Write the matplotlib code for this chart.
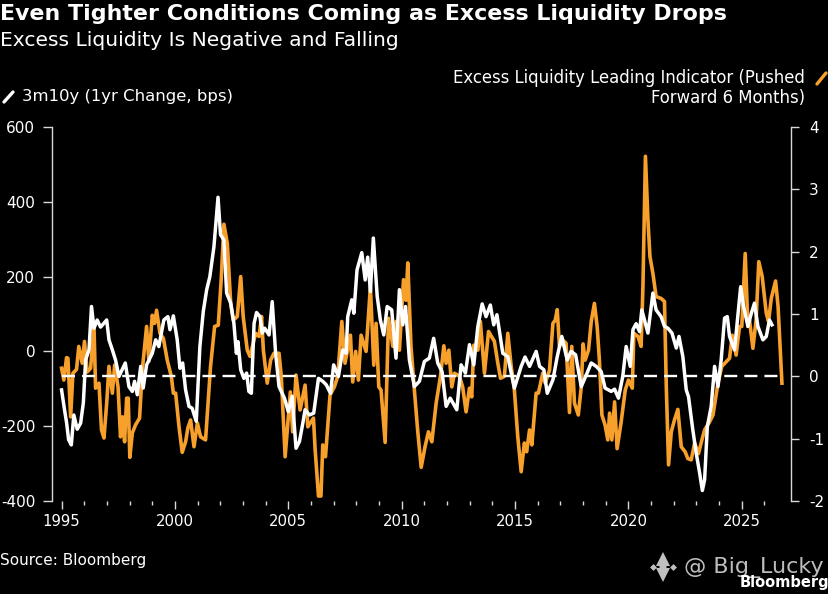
import matplotlib
matplotlib.use('Agg')
import matplotlib.pyplot as plt
from matplotlib.lines import Line2D

W, H = 829, 594
ORANGE = '#F7A02C'
GREY = '#d9d9d9'

curve_years = [1995.0, 1995.13, 1995.22, 1995.31, 1995.43, 1995.54, 1995.69, 1995.84, 1995.96, 1996.06, 1996.21, 1996.32,
               1996.43, 1996.57, 1996.72, 1996.99, 1997.09, 1997.24, 1997.38, 1997.53, 1997.81, 1997.97, 1998.12, 1998.22,
               1998.34, 1998.49, 1998.6, 1998.75, 1999.0, 1999.15, 1999.29, 1999.51, 1999.69, 1999.78, 1999.93, 2000.1,
               2000.22, 2000.34, 2000.47, 2000.62, 2000.76, 2000.94, 2001.1, 2001.25, 2001.4, 2001.54, 2001.72, 2001.9,
               2002.01, 2002.16, 2002.28, 2002.46, 2002.6, 2002.71, 2002.78, 2002.9, 2003.04, 2003.16, 2003.26, 2003.37,
               2003.49, 2003.6, 2003.75, 2003.85, 2003.96, 2004.15, 2004.29, 2004.44, 2004.59, 2004.83, 2005.0, 2005.17,
               2005.34, 2005.49, 2005.64, 2005.74, 2005.93, 2006.12, 2006.33, 2006.52, 2006.67, 2006.86, 2007.0, 2007.21,
               2007.4, 2007.55, 2007.62, 2007.8, 2007.89, 2008.03, 2008.24, 2008.39, 2008.5, 2008.62, 2008.75, 2008.92,
               2009.06, 2009.21, 2009.36, 2009.56, 2009.75, 2009.9, 2010.05, 2010.17, 2010.34, 2010.56, 2010.78, 2011.0,
               2011.22, 2011.41, 2011.59, 2011.78, 2011.96, 2012.14, 2012.43, 2012.62, 2012.81, 2012.99, 2013.18, 2013.36,
               2013.55, 2013.72, 2013.91, 2014.06, 2014.2, 2014.46, 2014.68, 2014.97, 2015.27, 2015.44, 2015.64, 2015.93,
               2016.08, 2016.27, 2016.42, 2016.67, 2016.86, 2017.06, 2017.3, 2017.47, 2017.67, 2017.92, 2018.14, 2018.36,
               2018.58, 2018.8, 2018.97, 2019.24, 2019.39, 2019.56, 2019.75, 2019.9, 2020.08, 2020.2, 2020.34, 2020.49,
               2020.59, 2020.86, 2021.08, 2021.22, 2021.44, 2021.59, 2021.74, 2021.92, 2022.11, 2022.23, 2022.4, 2022.55,
               2022.65, 2022.84, 2022.99, 2023.14, 2023.26, 2023.36, 2023.48, 2023.65, 2023.8, 2023.95, 2024.09, 2024.24,
               2024.36, 2024.46, 2024.68, 2024.95, 2025.08, 2025.27, 2025.42, 2025.56, 2025.71, 2025.93, 2026.08, 2026.22,
               2026.33]
curve_bps = [-103, -156, -190, -236, -250, -170, -208, -192, -138, -23, 4, 120,
             62, 84, 65, 84, 31, 4, -23, -67, -31, -94, -107, -80,
             -116, -40, -98, -36, -5, 31, 13, 84, 93, 58, 95, 31,
             -45, -31, -103, -147, -152, -187, 13, 107, 165, 200, 280, 412,
             312, 298, 156, 129, 75, -5, 26, -49, -72, -58, -107, -112,
             75, 104, 93, 49, 62, 44, 133, -5, -94, -125, -161, -120,
             -259, -241, -192, -156, -170, -165, -72, -80, -89, -112, -36, -67,
             4, -5, 93, 138, 102, 218, 264, 191, 252, 160, 303, 147,
             84, 44, 120, 111, -18, 165, 71, 120, -23, -94, -80, -27,
             -18, 35, -31, -54, -147, -125, -156, -36, -58, 18, -36, 67,
             127, 93, 124, 71, 98, -5, -14, -98, -40, -15, -40, 0,
             -40, -49, -112, -76, -14, 40, -23, 0, -9, -94, -63, -31,
             -40, -54, -98, -107, -101, -125, -67, 13, -40, 58, 74, 53,
             111, 49, 156, 111, 93, 67, 62, 49, 9, 40, -14, -103,
             -121, -210, -272, -325, -372, -343, -201, -147, -40, -94, -23, 89,
             93, 40, 4, 173, 120, 67, 102, 129, 67, 31, 40, 84,
             71]

liquidity_years = [1995.0, 1995.1, 1995.22, 1995.28, 1995.4, 1995.5, 1995.66, 1995.76, 1995.91, 1996.01, 1996.13, 1996.28,
                   1996.43, 1996.5, 1996.65, 1996.76, 1996.87, 1996.99, 1997.09, 1997.24, 1997.34, 1997.49, 1997.6, 1997.69,
                   1997.78, 1997.87, 1997.94, 1998.01, 1998.12, 1998.26, 1998.44, 1998.56, 1998.75, 1998.85, 1999.0, 1999.1,
                   1999.19, 1999.34, 1999.49, 1999.66, 1999.84, 1999.93, 2000.03, 2000.18, 2000.32, 2000.47, 2000.57, 2000.69,
                   2000.84, 2000.99, 2001.13, 2001.35, 2001.57, 2001.75, 2001.91, 2002.04, 2002.16, 2002.31, 2002.46, 2002.57,
                   2002.75, 2002.9, 2003.01, 2003.19, 2003.31, 2003.56, 2003.71, 2003.82, 2003.9, 2004.07, 2004.22, 2004.37,
                   2004.59, 2004.69, 2004.86, 2005.09, 2005.19, 2005.34, 2005.52, 2005.74, 2005.86, 2006.11, 2006.18, 2006.33,
                   2006.44, 2006.52, 2006.64, 2006.84, 2007.03, 2007.18, 2007.36, 2007.5, 2007.74, 2007.84, 2007.97, 2008.09,
                   2008.21, 2008.43, 2008.62, 2008.77, 2008.87, 2008.99, 2009.09, 2009.27, 2009.42, 2009.61, 2009.75, 2009.9,
                   2010.08, 2010.19, 2010.27, 2010.41, 2010.56, 2010.71, 2010.86, 2011.03, 2011.18, 2011.33, 2011.52, 2011.71,
                   2011.86, 2011.96, 2012.08, 2012.21, 2012.33, 2012.55, 2012.69, 2012.84, 2012.99, 2013.09, 2013.18, 2013.36,
                   2013.47, 2013.65, 2013.83, 2014.09, 2014.24, 2014.36, 2014.53, 2014.68, 2014.83, 2014.97, 2015.12, 2015.27,
                   2015.41, 2015.51, 2015.64, 2015.74, 2015.93, 2016.03, 2016.22, 2016.33, 2016.52, 2016.67, 2016.77, 2016.86,
                   2016.96, 2017.11, 2017.25, 2017.4, 2017.5, 2017.62, 2017.79, 2017.92, 2018.0, 2018.09, 2018.24, 2018.36,
                   2018.5, 2018.62, 2018.72, 2018.83, 2018.97, 2019.09, 2019.17, 2019.27, 2019.39, 2019.5, 2019.68, 2019.86,
                   2020.0, 2020.17, 2020.24, 2020.42, 2020.56, 2020.64, 2020.75, 2020.86, 2020.95, 2021.08, 2021.22, 2021.44,
                   2021.59, 2021.67, 2021.77, 2021.89, 2022.03, 2022.18, 2022.33, 2022.5, 2022.62, 2022.77, 2022.92, 2023.09,
                   2023.24, 2023.36, 2023.58, 2023.73, 2023.95, 2024.12, 2024.46, 2024.58, 2024.75, 2024.9, 2025.0, 2025.15,
                   2025.27, 2025.34, 2025.49, 2025.63, 2025.75, 2025.9, 2026.08, 2026.18, 2026.3, 2026.49, 2026.6, 2026.77]
liquidity_values = [0.13, -0.06, 0.30, 0.29, -0.65, 0.05, 0.11, 0.48, 0.21, 0.56, 0.07, 0.13,
                    0.80, -0.19, -0.11, -0.86, -0.99, -0.43, 0.16, -0.27, 0.18, -0.17, -0.97, -0.65,
                    -1.05, -0.35, -0.35, -1.30, -0.91, -0.78, -0.67, 0.10, 0.80, 0.24, 0.98, 0.85,
                    1.06, 0.69, 0.61, 0.26, 0.0, -0.27, -0.27, -0.81, -1.22, -1.05, -0.83, -0.70,
                    -1.13, -0.75, -0.97, -1.02, 0.16, 0.80, 0.82, 1.55, 2.44, 2.13, 1.17, 0.90,
                    0.96, 1.60, 0.96, 0.42, 0.32, 0.69, 0.64, 0.96, 0.42, -0.11, 0.26, 0.37,
                    0.37, 0.0, -1.29, -0.25, -0.89, 0.02, -0.54, -0.14, -0.81, -0.67, -1.16, -1.92,
                    -1.92, -1.10, -1.29, -0.30, -0.17, 0.0, 0.88, 0.21, 0.66, -0.09, 0.40, -0.06,
                    0.66, 0.40, 1.44, 0.18, 0.85, -0.17, -0.22, -1.06, 0.93, 0.48, 0.88, 0.42,
                    1.55, 1.22, 1.82, 0.48, -0.22, -0.89, -1.46, -1.13, -0.89, -1.05, -0.43, 0.0,
                    0.49, 0.21, 0.42, -0.17, 0.05, 0.0, -0.17, -0.57, -0.19, -0.33, 0.50, 0.42,
                    0.88, 0.05, 0.72, 0.56, 0.21, -0.03, 0.0, 0.69, 0.16, -0.22, -0.97, -1.53,
                    -1.07, -1.21, -0.86, -1.10, -0.27, -0.27, 0.05, -0.11, 0.10, 0.85, 0.90, 1.07,
                    0.48, 0.58, 0.53, -0.58, 0.48, -0.43, -0.62, -0.17, 0.52, 0.26, 0.42, 0.88,
                    1.17, 0.80, 0.26, -0.62, -0.78, -1.02, -0.59, -1.02, -0.41, -1.16, -0.73, -0.22,
                    -0.06, -0.19, 0.69, 0.64, 0.48, 1.44, 3.53, 2.51, 1.92, 1.65, 1.28, 1.25,
                    1.20, -0.17, -1.42, -0.89, -0.70, -0.53, -1.13, -1.21, -1.32, -1.34, -1.07, -1.24,
                    -1.02, -0.86, -0.73, -0.62, -0.11, 0.16, 0.29, 0.66, 0.34, 0.80, 0.80, 1.97,
                    0.80, 0.90, 0.45, 0.90, 1.84, 1.60, 1.01, 0.88, 1.25, 1.53, 1.12, -0.11]

left_ticks = [-400, -200, 0, 200, 400, 600]
right_ticks = [-2, -1, 0, 1, 2, 3, 4]
major_years = [1995, 2000, 2005, 2010, 2015, 2020, 2025]
minor_years = [y for y in range(1995, 2027) if y % 5 != 0]

plt.rcParams['font.family'] = 'DejaVu Sans'
plt.rcParams['axes.unicode_minus'] = False
fig = plt.figure(figsize=(W / 100, H / 100), dpi=100, facecolor='black')

ax = fig.add_axes([52.5 / W, 1 - 501 / H, (791 - 52.5) / W, (501 - 127) / H])
ax2 = ax.twinx()
# white line and the dashed zero sit above the orange one
ax.set_zorder(2)
ax.patch.set_visible(False)
ax2.set_facecolor('black')

ax2.plot(liquidity_years, liquidity_values, color=ORANGE, lw=2.6, solid_joinstyle='round')
ax.plot(curve_years, curve_bps, color='white', lw=2.5, solid_joinstyle='round')
ax.plot([1995, 2026.8], [0, 0], color='white', lw=1.7, dashes=(5.5, 3), transform=ax2.transData)

ax.set_xlim(1994.6, 2027.17)
ax.set_ylim(-400, 600)
ax2.set_ylim(-2, 4)
ax.set_yticks(left_ticks)
ax2.set_yticks(right_ticks)
ax.set_xticks(major_years)
ax.set_xticks(minor_years, minor=True)

for a in (ax, ax2):
    for s in a.spines.values():
        s.set_visible(False)
ax.spines['left'].set_visible(True)
ax.spines['left'].set_color(GREY)
ax.spines['left'].set_linewidth(1)
ax2.spines['right'].set_visible(True)
ax2.spines['right'].set_color(GREY)
ax2.spines['right'].set_linewidth(1)

ax.tick_params(axis='y', labelcolor='white', labelsize=11, length=6.5, width=1, pad=6, color=GREY)
ax2.tick_params(axis='y', labelcolor='white', labelsize=11, length=6, width=1, pad=7, color=GREY)
ax.tick_params(axis='x', which='major', labelcolor='white', labelsize=10.7, length=6, width=1, pad=3.5, color=GREY)
ax.tick_params(axis='x', which='minor', length=3, width=1, color=GREY)

def px_text(x, y, s, **kw):
    kw.setdefault('color', 'white')
    kw.setdefault('va', 'center')
    fig.text(x / W, 1 - y / H, s, **kw)

def px_line(xs, ys, color, lw):
    fig.add_artist(Line2D([x / W for x in xs], [1 - y / H for y in ys], color=color, lw=lw,
                          solid_capstyle='round', transform=fig.transFigure))

px_text(0, 14, 'Even Tighter Conditions Coming as Excess Liquidity Drops', fontsize=15.9, fontweight='bold')
px_text(0, 40, 'Excess Liquidity Is Negative and Falling', fontsize=14.6)

px_line([4, 13], [102, 92], 'white', 2.4)
px_text(22, 97, '3m10y (1yr Change, bps)', fontsize=11.85)
px_line([817, 826], [84, 73], ORANGE, 2.4)
px_text(805, 78, 'Excess Liquidity Leading Indicator (Pushed', fontsize=11.9, ha='right')
px_text(805, 98, 'Forward 6 Months)', fontsize=11.9, ha='right')

px_text(0, 561, 'Source: Bloomberg', fontsize=10.95)

# watermark + logo
for dx, dy, ms, mk in [(0, -8, 10, '^'), (-10, 0, 3.5, 'D'), (10, 0, 3.5, 'D'), (0, 0, 4, 'D'), (0, 8, 10, 'v')]:
    fig.add_artist(Line2D([(663 + dx) / W], [1 - (567 + dy) / H], marker=mk, ms=ms, color='#c0c0c0',
                          lw=0, mew=0, transform=fig.transFigure))
px_text(684, 567, '@ Big_Lucky', fontsize=16, color='#bdbdbd')
px_text(829, 583, 'Bloomberg', fontsize=10.5, fontweight='bold', ha='right')

fig.savefig('out.png', dpi=100, facecolor='black')
